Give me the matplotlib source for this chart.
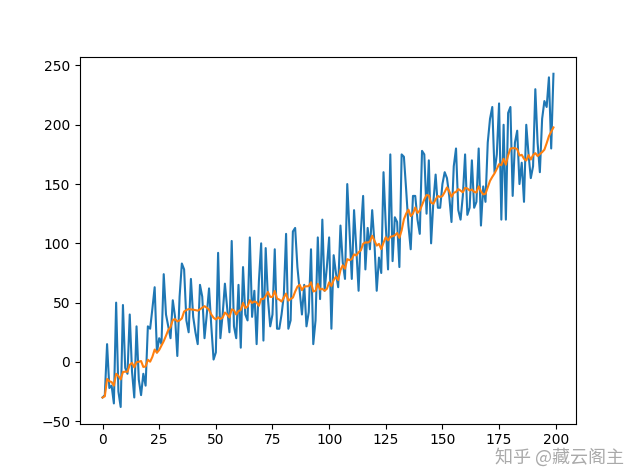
import numpy as np
import pandas as pd
import matplotlib
matplotlib.use("Agg")
import matplotlib.pyplot as plt

values = [
-30,-28,15,-22,-20,-35,50,-25,-38,48,
-5,-10,40,-8,-30,30,-15,-28,-10,-20,
30,28,45,63,8,20,15,74,40,30,
20,52,38,5,55,83,78,35,25,70,
38,25,15,65,55,20,40,62,30,2,
8,92,20,40,66,45,25,102,30,20,
65,12,80,40,35,105,38,60,15,68,
100,18,96,53,30,40,95,28,28,40,
56,108,28,35,110,113,80,60,40,65,
30,42,95,15,35,105,53,120,60,80,
105,28,90,75,63,115,84,70,150,110,
70,128,95,60,110,140,78,113,95,128,
100,60,88,75,160,115,78,175,85,122,
118,80,175,173,145,115,95,140,140,120,
108,178,175,125,170,100,135,158,130,130,
150,160,155,140,118,165,180,128,120,140,
175,124,130,170,130,135,180,115,148,135,
185,205,215,160,175,218,120,200,120,210,
215,140,185,195,150,168,135,200,175,155,
165,230,185,160,205,220,215,240,180,243,
]
window = 12

x = np.arange(len(values))
s = pd.Series(values, dtype=float)
smooth = s.rolling(window, min_periods=1).mean()

fig, ax = plt.subplots(figsize=(6.4, 4.76), dpi=100)
ax.plot(x, s)
ax.plot(x, smooth)
fig.text(0.975, 0.02, "知乎 @藏云阁主", ha="right", va="bottom", color="#aaaaaa",
         fontsize=13, family=["Noto Sans CJK SC", "DejaVu Sans"])
fig.savefig("out.png")
